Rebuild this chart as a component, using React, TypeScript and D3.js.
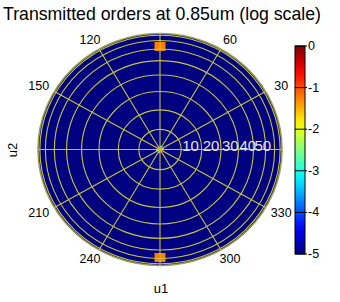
import React from "react";
import * as d3 from "d3";

const titleText = "Transmitted orders at 0.85um (log scale)";
const ringDegrees = [10, 20, 30, 40, 50, 60, 70, 80, 90];
const ringLabels = [10, 20, 30, 40, 50];
const spokeAngles = [0, 30, 60, 90, 120, 150, 180, 210, 240, 270, 300, 330];
const angleLabels = [30, 60, 120, 150, 210, 240, 300, 330];
const colorTicks = [0, -1, -2, -3, -4, -5];

// diffraction orders: direction cosines and log10 efficiency
const orderU1 = [0, 0];
const orderU2 = [0.888, -0.931];
const orderValue = [-1.25, -1.25];

// zero-order cluster near the centre (fine grid)
const centerU1 = [-0.024, -0.008, 0.008, 0.024];
const centerU2 = [0.024, 0.008, -0.008, -0.024];
const centerValues = [
  [-4.5, -0.4, -3.0, -4.5],
  [-0.4, -3.0, -0.4, -3.0],
  [-3.0, -0.4, -3.0, -0.4],
  [-4.5, -3.0, -0.4, -4.5],
];

const jet = (t: number) => {
  const c = (v: number) => Math.round(255 * Math.max(0, Math.min(1, v)));
  const r = c(1.5 - Math.abs(4 * t - 3));
  const g = c(1.5 - Math.abs(4 * t - 2));
  const b = c(1.5 - Math.abs(4 * t - 1));
  return `rgb(${r},${g},${b})`;
};

export default function App() {
  const W = 340, H = 302;
  const cx = 160, cy = 149.5, rx = 122, ry = 116;
  const font = "'Liberation Sans', Arial, sans-serif";
  const gridColor = "#c4c440";

  const xU = d3.scaleLinear().domain([-1, 1]).range([cx - rx, cx + rx]);
  const yU = d3.scaleLinear().domain([-1, 1]).range([cy + ry, cy - ry]);
  const colorT = d3.scaleLinear().domain([-5, 0]).range([0, 1]).clamp(true);
  const color = (v: number) => jet(colorT(v));

  const du = 0.09, dv = 0.078;
  const dc = 0.016;

  const cbX = 295, cbW = 10, cbTop = 46, cbBot = 254;
  const cbY = d3.scaleLinear().domain([0, -5]).range([cbTop, cbBot]);
  const stops = d3.range(0, 1.0001, 0.05);

  const rad = (a: number) => (a * Math.PI) / 180;
  const rxL = 140, ryL = 127;

  return (
    <svg width={W} height={H} style={{ position: "absolute", left: 0, top: 0 }}>
      <defs>
        <linearGradient id="jetgrad" x1="0" y1="1" x2="0" y2="0">
          {stops.map((s, i) => (
            <stop key={i} offset={s} stopColor={jet(s)} />
          ))}
        </linearGradient>
        <clipPath id="clipE">
          <ellipse cx={cx} cy={cy} rx={rx} ry={ry} />
        </clipPath>
      </defs>
      <rect width={W} height={H} fill="#fff" />
      <text x={162} y={20} textAnchor="middle" fontFamily={font} fontSize={17.7} fill="#000">
        {titleText}
      </text>

      <ellipse cx={cx} cy={cy} rx={rx} ry={ry} fill={color(-5)} />
      <g clipPath="url(#clipE)">
        {orderU1.map((u, i) => (
          <rect
            key={i}
            x={xU(u - du / 2)}
            y={yU(orderU2[i] + dv / 2)}
            width={xU(u + du / 2) - xU(u - du / 2)}
            height={yU(orderU2[i] - dv / 2) - yU(orderU2[i] + dv / 2)}
            fill={color(orderValue[i])}
          />
        ))}
        {centerU2.map((v, j) =>
          centerU1.map((u, i) => (
            <rect
              key={`${i}-${j}`}
              x={xU(u - dc / 2)}
              y={yU(v + dc / 2)}
              width={xU(u + dc / 2) - xU(u - dc / 2)}
              height={yU(v - dc / 2) - yU(v + dc / 2)}
              fill={color(centerValues[j][i])}
            />
          ))
        )}
      </g>

      {ringDegrees.map((d) => {
        const s = Math.sin(rad(d));
        return (
          <ellipse
            key={d}
            cx={cx}
            cy={cy}
            rx={rx * s}
            ry={ry * s}
            fill="none"
            stroke={d === 90 ? "#9a9a50" : gridColor}
            strokeWidth={d === 90 ? 1.6 : 1.1}
          />
        );
      })}
      {spokeAngles.map((a) => (
        <line
          key={a}
          x1={cx}
          y1={cy}
          x2={cx + rx * Math.cos(rad(a))}
          y2={cy - ry * Math.sin(rad(a))}
          stroke={gridColor}
          strokeWidth={1.1}
        />
      ))}

      {ringLabels.map((d) => (
        <text
          key={d}
          x={cx + rx * Math.sin(rad(d)) + 1}
          y={151}
          fontFamily={font}
          fontSize={15}
          fill="#e6e6e6"
        >
          {d}
        </text>
      ))}

      {angleLabels.map((a) => (
        <text
          key={a}
          x={cx + rxL * Math.cos(rad(a))}
          y={cy - ryL * Math.sin(rad(a))}
          textAnchor="middle"
          dominantBaseline="central"
          fontFamily={font}
          fontSize={12.5}
          fill="#000"
        >
          {a}
        </text>
      ))}

      <text x={161} y={293} textAnchor="middle" fontFamily={font} fontSize={13} fill="#000">
        u1
      </text>
      <text
        transform={`translate(17,150) rotate(-90)`}
        textAnchor="middle"
        fontFamily={font}
        fontSize={13}
        fill="#000"
      >
        u2
      </text>

      <rect x={cbX} y={cbTop} width={cbW} height={cbBot - cbTop} fill="url(#jetgrad)" stroke="#000" strokeWidth={1} />
      {colorTicks.map((t) => (
        <g key={t}>
          <line x1={cbX} x2={cbX + cbW + 2} y1={cbY(t)} y2={cbY(t)} stroke="#000" strokeWidth={1} />
          <text
            x={cbX + cbW + 3}
            y={cbY(t)}
            dominantBaseline="central"
            fontFamily={font}
            fontSize={12.5}
            fill="#000"
          >
            {t === 0 ? "0" : `-${Math.abs(t)}`}
          </text>
        </g>
      ))}
    </svg>
  );
}
